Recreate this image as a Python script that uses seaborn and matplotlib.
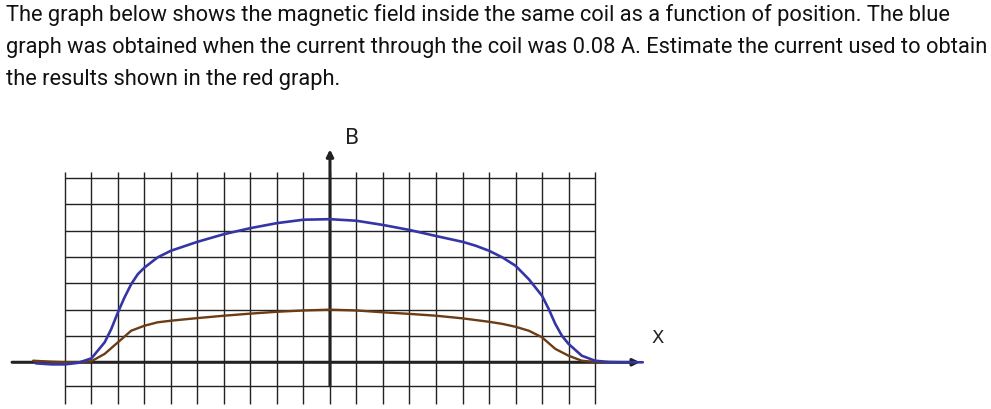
import numpy as np
import pandas as pd
import matplotlib
matplotlib.use('Agg')
import matplotlib.pyplot as plt
import seaborn as sns

sns.set_style('white')
plt.rcParams['font.family'] = ['Roboto', 'DejaVu Sans']
plt.rcParams['lines.solid_joinstyle'] = 'round'

# 문제 텍스트
question_lines = [
    "The graph below shows the magnetic field inside the same coil as a function of position. The blue",
    "graph was obtained when the current through the coil was 0.08 A. Estimate the current used to obtain",
    "the results shown in the red graph.",
]

# 파란 곡선 (0.08 A)
blue_x = [-11.1, -10.5, -10, -9.75, -9.5, -9, -8.5, -8.25, -8, -7.75, -7.5, -7.25, -7, -6.5, -6, -5, -4, -3, -2, -1, 0,
          1, 2, 3, 4, 5, 5.5, 6, 6.5, 7, 7.5, 8, 8.25, 8.5, 8.75, 9, 9.5, 10, 10.5, 11, 11.8]
blue_b = [-0.04, -0.08, -0.08, -0.05, -0.02, 0.15, 0.76, 1.27, 1.9, 2.47, 2.97, 3.35, 3.6, 3.99, 4.24, 4.58, 4.87, 5.1, 5.29, 5.42, 5.44,
          5.38, 5.22, 5.03, 4.8, 4.58, 4.43, 4.24, 3.99, 3.67, 3.16, 2.53, 2.03, 1.46, 1.01, 0.7, 0.25, 0.06, 0.01, 0.0, 0.0]

# 갈색 곡선 (red graph)
brown_x = [-11.2, -10.5, -10, -9.5, -9, -8.5, -8, -7.5, -7, -6.5, -6, -5, -4, -3, -2, -1, 0,
           1, 2, 3, 4, 5, 6, 6.5, 7, 7.5, 8, 8.5, 9, 9.5, 10, 10.3]
brown_b = [0.06, 0.02, 0.0, 0.0, 0.04, 0.32, 0.76, 1.2, 1.39, 1.52, 1.58, 1.68, 1.77, 1.85, 1.92, 1.97, 2.0,
           1.97, 1.9, 1.84, 1.77, 1.67, 1.54, 1.46, 1.35, 1.2, 0.95, 0.51, 0.25, 0.06, 0.01, 0.0]

grid_x = list(range(-10, 11))
grid_y = [-0.92, 1, 2, 3, 4, 5, 6, 7]

fig = plt.figure(figsize=(9.91, 4.10), dpi=100)
ax = fig.add_axes([0, 0, 1, 1])

# 격자
ax.vlines(grid_x, -1.6, 7.24, color='#222222', lw=1.0, zorder=1)
ax.hlines(grid_y, -10, 10, color='#222222', lw=1.0, zorder=1)

# 축 + 화살표
ax.annotate('', xy=(11.8, 0), xytext=(-12.1, 0),
            arrowprops=dict(arrowstyle='-|>', color='#222222', lw=2.2, mutation_scale=10), zorder=2)
ax.annotate('', xy=(0, 8.2), xytext=(0, -1.0),
            arrowprops=dict(arrowstyle='-|>', color='#222222', lw=2.2, mutation_scale=10), zorder=2)
ax.text(0.85, 8.55, 'B', fontsize=15, ha='center', va='center', family=['DejaVu Sans'], color='#222222')
ax.text(12.35, 0.95, 'X', fontsize=13, ha='center', va='center', family=['DejaVu Sans'], color='#222222')

df_blue = pd.DataFrame({'x': blue_x, 'B': blue_b})
df_brown = pd.DataFrame({'x': brown_x, 'B': brown_b})
sns.lineplot(data=df_brown, x='x', y='B', color='#6b3c15', lw=1.7, sort=False, ax=ax, zorder=3)
sns.lineplot(data=df_blue, x='x', y='B', color='#3535a8', lw=1.9, sort=False, ax=ax, zorder=4)

ax.set_xlim(-12.45, 24.94)
ax.set_ylim(-1.776, 13.81)
ax.axis('off')

for i, line in enumerate(question_lines):
    fig.text(6 / 991, 1 - (21 + 32 * i) / 410, line, fontsize=15.75, va='baseline', ha='left', color='#111111')

fig.savefig('out.png', dpi=100)
